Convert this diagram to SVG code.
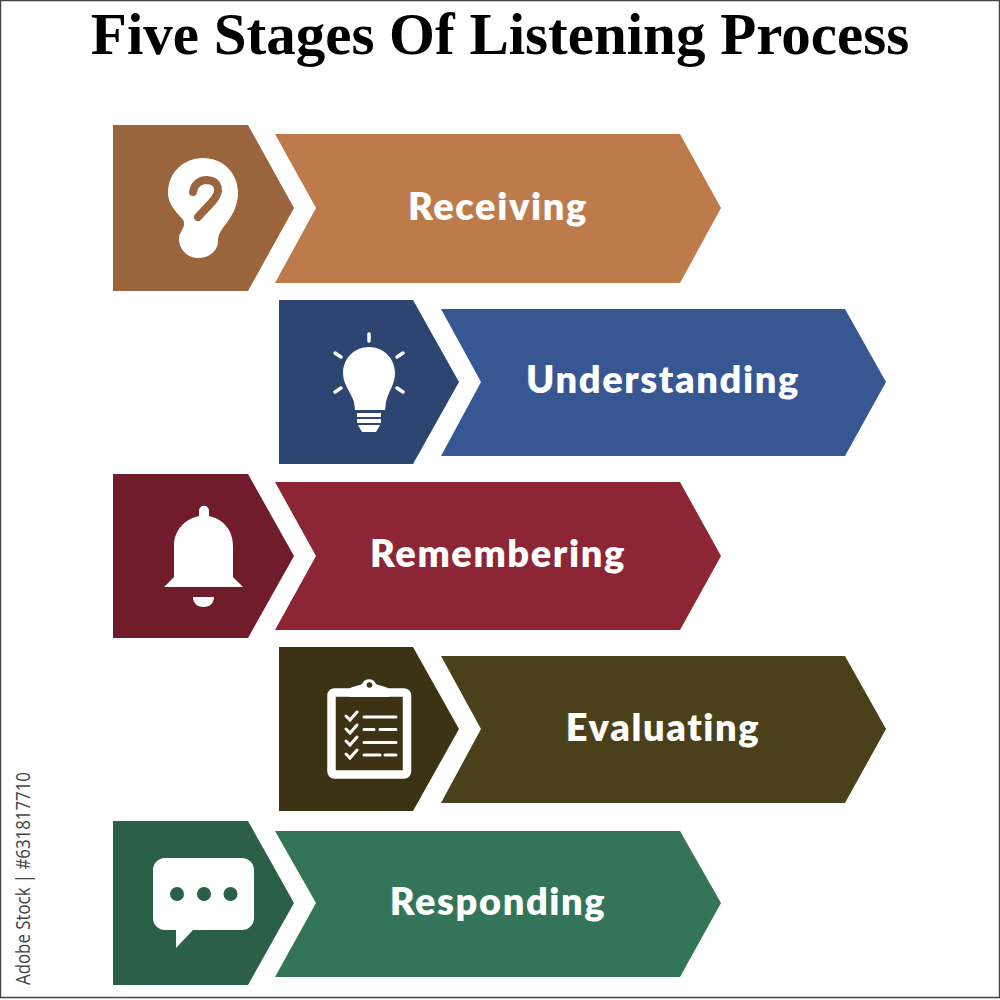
<svg xmlns="http://www.w3.org/2000/svg" width="1000" height="1000" viewBox="0 0 1000 1000">
<style>
.title{font-family:"Liberation Serif","Times New Roman",serif;font-weight:700;font-size:59px;fill:#000;text-anchor:middle}
.label{font-family:Lato,"Open Sans",sans-serif;font-weight:800;font-size:38px;fill:#fff;text-anchor:middle;letter-spacing:1.6px}
.side{font-family:"Open Sans","Noto Sans",sans-serif;font-size:20px;font-weight:500;fill:#444}
.ico{fill:#fff}
.lnw{stroke:#fff;fill:none;stroke-linecap:round}
</style>
<rect x="0.500" y="0.500" width="999" height="997" fill="#fff" stroke="#444" stroke-width="1.500"/>
<text class="title" x="500" y="54">Five Stages Of Listening Process</text>

<g id="receiving">
<polygon points="113,125 248,125 294,208 248,291 113,291" fill="#9a643d"/>
<polygon points="275,134 680,134 721,208 680,283 275,283 316,208" fill="#bd7b4c"/>
<path class="ico" d="M168,193 C168,172 184,158 203,158 C223,158 238,173 238,193 C238,207 231,217 226,224 C220,231 218,236 218,241 C218,251 209,258 198,258 C187,258 179,249 179,239 C179,233 183,230 184,225 C185,220 181,218 177,213 C171,206 168,200 168,193 Z"/>
<path d="M198,217 L212,202 C222,191 219,181 207,180 C199,180 194,185 193,192" fill="none" stroke="#9a643d" stroke-width="8" stroke-linecap="round"/>
<text class="label" x="498" y="220">Receiving</text>
</g>

<g id="understanding">
<polygon points="279,300 413,300 459,382 413,464 279,464" fill="#2c4571"/>
<polygon points="441,309 845,309 886,382 845,456 441,456 481,382" fill="#375793"/>
<path class="ico" d="M369,347 C384,347 395,359 395,373 C395,385 388,392 386,402 L385,410 L355,410 L354,402 C351,392 343,385 343,373 C343,359 354,347 369,347 Z"/>
<path class="ico" d="M357,413 H381 V417 H357 Z M357,419 H381 V423 H357 Z M358,425 H380 L376,432 H362 Z"/>
<path class="lnw" stroke-width="3.500" d="M369,334 V341 M335,353 L341,357 M403,353 L397,357 M335,392 L341,388 M403,392 L397,388"/>
<text class="label" x="663" y="393">Understanding</text>
</g>

<g id="remembering">
<polygon points="113,474 248,474 294,556 248,638 113,638" fill="#701c2b"/>
<polygon points="275,482 680,482 721,556 680,630 275,630 316,556" fill="#8c2635"/>
<path class="ico" d="M199,516 V511 C199,504 209,504 209,511 V516 C223,519 233,530 233,546 V577 L243,587 H164 L174,577 V546 C174,530 185,519 199,516 Z"/>
<path class="ico" d="M193,597 H214 C214,603 210,607 203.500,607 C197,607 193,603 193,597 Z"/>
<text class="label" x="498" y="567">Remembering</text>
</g>

<g id="evaluating">
<polygon points="279,647 413,647 459,729 413,811 279,811" fill="#3b3314"/>
<polygon points="441,656 845,656 886,729 845,803 441,803 481,729" fill="#4a411b"/>
<rect x="331.500" y="692.500" width="75.500" height="82" rx="3" fill="none" stroke="#fff" stroke-width="8.500"/>
<path class="ico" d="M349,697 V689 C352,686 358,686 362,684 A7.500,7.500 0 0 1 376,684 C380,686 386,686 389,689 V697 Z"/>
<circle cx="369.500" cy="685" r="2.800" fill="#3b3314"/>
<path class="lnw" stroke-width="3" d="M346,716 L350,720 L357,712 M346,729 L350,733 L357,725 M346,741 L350,745 L357,737 M346,754 L350,758 L357,750"/>
<path class="lnw" stroke-width="3" stroke-linecap="butt" d="M364,717 H396 M364,729.500 H374 M380,729.500 H396 M364,742.500 H396 M364,755 H380 M385,755 H396"/>
<text class="label" x="663" y="741">Evaluating</text>
</g>

<g id="responding">
<polygon points="113,821 248,821 294,903 248,985 113,985" fill="#2a5f48"/>
<polygon points="275,831 680,831 721,903 680,977 275,977 316,903" fill="#347459"/>
<path class="ico" d="M165,858 H242 A12,12 0 0 1 254,870 V918 A12,12 0 0 1 242,930 H193 L176,948 V930 H165 A12,12 0 0 1 153,918 V870 A12,12 0 0 1 165,858 Z"/>
<circle cx="177" cy="894" r="7" fill="#2a5f48"/><circle cx="204" cy="894" r="7" fill="#2a5f48"/><circle cx="230.500" cy="894" r="7" fill="#2a5f48"/>
<text class="label" x="498" y="915">Responding</text>
</g>

<text class="side" transform="translate(30,985) rotate(-90)" textLength="213" lengthAdjust="spacingAndGlyphs">Adobe Stock | #631817710</text>
</svg>
